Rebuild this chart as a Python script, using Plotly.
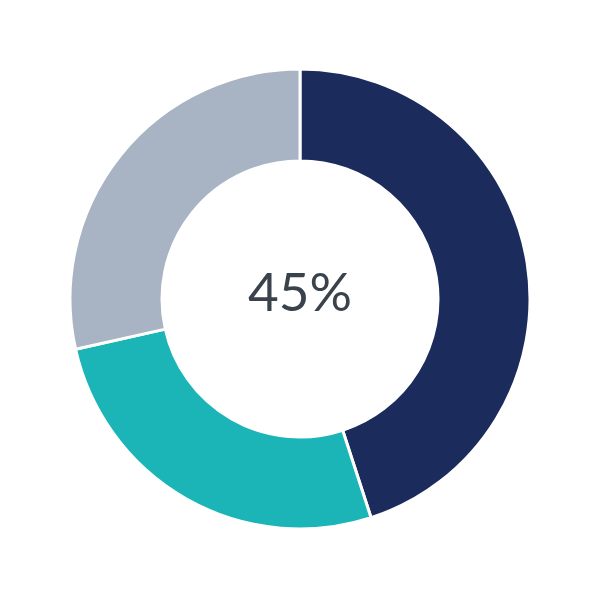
import plotly.graph_objects as go

labels = ["A", "B", "C"]
values = [45, 26.5, 28.5]
colors = ["#1b2b5b", "#1bb5b8", "#a8b3c3"]
center_text = "45%"

fig = go.Figure(go.Pie(
    labels=labels,
    values=values,
    hole=0.6,
    sort=False,
    direction="clockwise",
    rotation=0,
    marker=dict(colors=colors, line=dict(color="white", width=3)),
    textinfo="none",
    hoverinfo="label+percent",
))

fig.add_annotation(x=0.5, y=0.5, xref="paper", yref="paper", text=center_text,
                   showarrow=False, yshift=9,
                   font=dict(family="Lato", size=53, color="#3a424b"))

# page body has an 8px margin, so the figure is shrunk to fit the window
fig.update_layout(
    width=592, height=591,
    margin=dict(l=62, r=70, t=61, b=70),
    showlegend=False,
    paper_bgcolor="white",
    plot_bgcolor="white",
)

fig.write_html("out.html")
